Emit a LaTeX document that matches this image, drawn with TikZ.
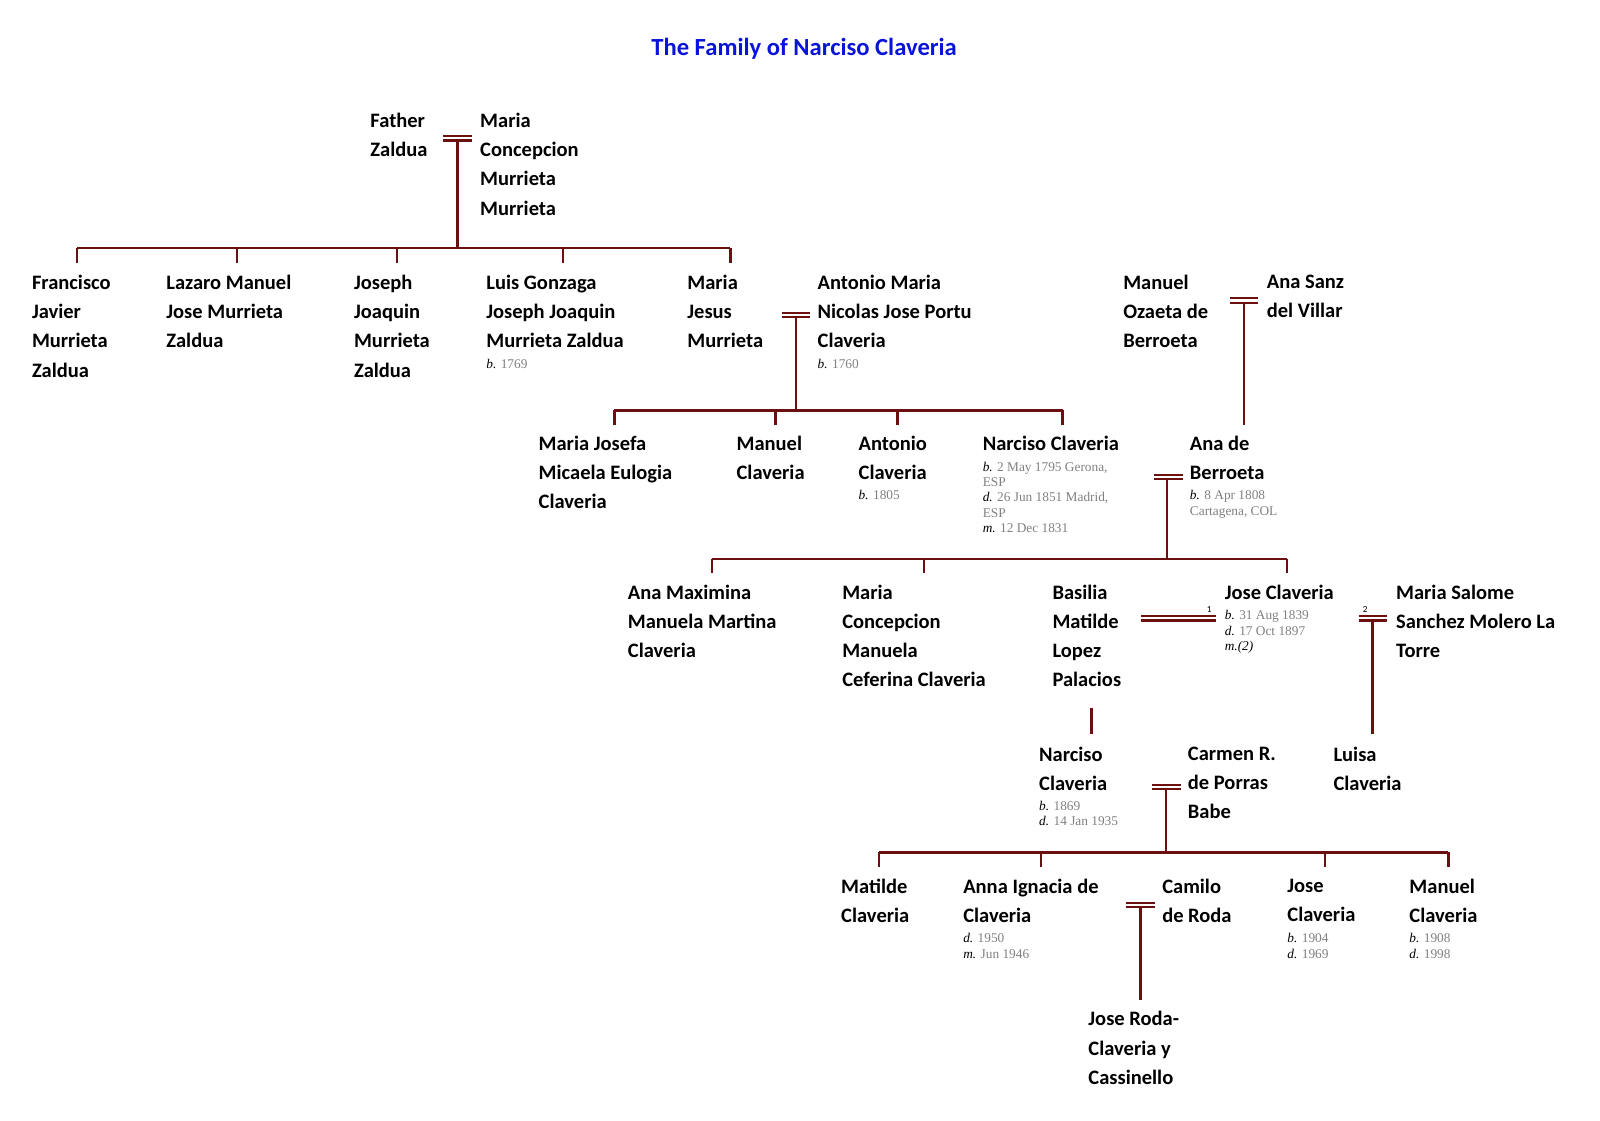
\documentclass[tikz,border=0pt]{standalone}
\usepackage{fontspec}
\setmainfont{Carlito}
\newfontfamily\detfont{Liberation Serif}
\definecolor{ln}{HTML}{6B1010}
\definecolor{tt}{HTML}{0A14D8}
\begin{document}
\begin{tikzpicture}[x=1pt,y=-1pt,
  pn/.style={anchor=north west,inner sep=0pt,align=left,font=\fontsize{20}{28.5}\selectfont\bfseries},
  dt/.style={anchor=north west,inner sep=0pt,align=left,text=gray,font=\detfont\fontsize{13}{15}\selectfont},
  ll/.style={draw=ln,line width=2.5pt}]
\useasboundingbox (0,0) rectangle (1560,1092);
\newcommand\marr[3]{\draw[ll,line width=2pt] (#1,{#3-2}) -- (#2,{#3-2}); \draw[ll,line width=2pt] (#1,{#3+2}) -- (#2,{#3+2});}
\newcommand\lb[1]{\textit{\textcolor{black}{#1}}}
\node[font=\fontsize{24}{28}\selectfont\bfseries,text=tt] (title) at (784,48) {The Family of Narciso Claveria};
% generation 1
\node[pn] (fz) at (361,110) {Father\\Zaldua};
\node[pn] (mcm) at (468,110) {Maria\\Concepcion\\Murrieta\\Murrieta};
\marr{432}{460}{135}
\coordinate (m1) at (446,137); \coordinate (h1) at (446,242);
\draw[ll] (m1) -- (h1);
\draw[ll] (75,242) -- (712,242);
\foreach \x in {75,231,387,549,712} \draw[ll] (\x,242) -- (\x,256);
\node[pn] (c11) at (31,268) {Francisco\\Javier\\Murrieta\\Zaldua};
\node[pn] (c12) at (162,268) {Lazaro Manuel\\Jose Murrieta\\Zaldua};
\node[pn] (c13) at (345,268) {Joseph\\Joaquin\\Murrieta\\Zaldua};
\node[pn] (c14) at (474,268) {Luis Gonzaga\\Joseph Joaquin\\Murrieta Zaldua};
\node[dt] (c14d) at (474,350) {\lb{b.} 1769};
\node[pn] (c15) at (670,268) {Maria\\Jesus\\Murrieta};
\node[pn] (amp) at (797,268) {Antonio Maria\\Nicolas Jose Portu\\Claveria};
\node[dt] (ampd) at (797,350) {\lb{b.} 1760};
\marr{762}{790}{307}
\draw[ll] (776,309) -- (776,400);
\draw[ll] (599,400) -- (1036,400);
\foreach \x in {599,756,875,1036} \draw[ll] (\x,400) -- (\x,414);
\node[pn] (moz) at (1095,268) {Manuel\\Ozaeta de\\Berroeta};
\node[pn] (asv) at (1235,268) {Ana Sanz\\del Villar};
\marr{1199}{1227}{293}
\draw[ll] (1213,295) -- (1213,414);
% generation 3
\node[pn] (mj) at (525,425) {Maria Josefa\\Micaela Eulogia\\Claveria};
\node[pn] (mc) at (718,425) {Manuel\\Claveria};
\node[pn] (ac) at (837,425) {Antonio\\Claveria};
\node[dt] (acd) at (837,478) {\lb{b.} 1805};
\node[pn] (nc) at (958,425) {Narciso Claveria};
\node[dt] (ncd) at (958,450) {\lb{b.} 2 May 1795 Gerona,\\ESP\\\lb{d.} 26 Jun 1851 Madrid,\\ESP\\\lb{m.} 12 Dec 1831};
\node[pn] (ab) at (1160,425) {Ana de\\Berroeta};
\node[dt] (abd) at (1160,478) {\lb{b.} 8 Apr 1808\\Cartagena, COL};
\marr{1125}{1153}{465}
\draw[ll] (1138,467) -- (1138,545);
\draw[ll] (694,545) -- (1255,545);
\foreach \x in {694,901,1255} \draw[ll] (\x,545) -- (\x,559);
% generation 4
\node[pn] (am) at (612,570) {Ana Maximina\\Manuela Martina\\Claveria};
\node[pn] (mcc) at (821,570) {Maria\\Concepcion\\Manuela\\Ceferina Claveria};
\node[pn] (bm) at (1026,570) {Basilia\\Matilde\\Lopez\\Palacios};
\node[pn] (jc) at (1194,570) {Jose Claveria};
\node[dt] (jcd) at (1194,595) {\lb{b.} 31 Aug 1839\\\lb{d.} 17 Oct 1897\\\lb{m.(2)}};
\node[pn] (ms) at (1361,570) {Maria Salome\\Sanchez Molero La\\Torre};
\marr{1112}{1186}{603}
\node[font=\fontsize{9}{9}\selectfont] (one) at (1179,594) {1};
\marr{1325}{1352}{603}
\node[font=\fontsize{9}{9}\selectfont] (two) at (1331,594) {2};
\draw[ll] (1338,605) -- (1338,716);
\draw[ll] (1064,690) -- (1064,716);
% generation 5
\node[pn] (nc2) at (1013,728) {Narciso\\Claveria};
\node[dt] (nc2d) at (1013,781) {\lb{b.} 1869\\\lb{d.} 14 Jan 1935};
\node[pn] (cr) at (1158,728) {Carmen R.\\de Porras\\Babe};
\node[pn] (lc) at (1300,728) {Luisa\\Claveria};
\marr{1123}{1151}{767}
\draw[ll] (1137,769) -- (1137,831);
\draw[ll] (857,831) -- (1412,831);
\foreach \x in {857,1015,1292,1412} \draw[ll] (\x,831) -- (\x,845);
% generation 6
\node[pn] (mtc) at (820,857) {Matilde\\Claveria};
\node[pn] (aic) at (939,857) {Anna Ignacia de\\Claveria};
\node[dt] (aicd) at (939,910) {\lb{d.} 1950\\\lb{m.} Jun 1946};
\node[pn] (cdr) at (1133,857) {Camilo\\de Roda};
\node[pn] (jc2) at (1255,857) {Jose\\Claveria};
\node[dt] (jc2d) at (1255,910) {\lb{b.} 1904\\\lb{d.} 1969};
\node[pn] (mnc) at (1374,857) {Manuel\\Claveria};
\node[dt] (mncd) at (1374,910) {\lb{b.} 1908\\\lb{d.} 1998};
\marr{1098}{1126}{882}
\draw[ll] (1112,884) -- (1112,975);
\node[pn] (jrc) at (1061,986) {Jose Roda-\\Claveria y\\Cassinello};
\end{tikzpicture}
\end{document}
